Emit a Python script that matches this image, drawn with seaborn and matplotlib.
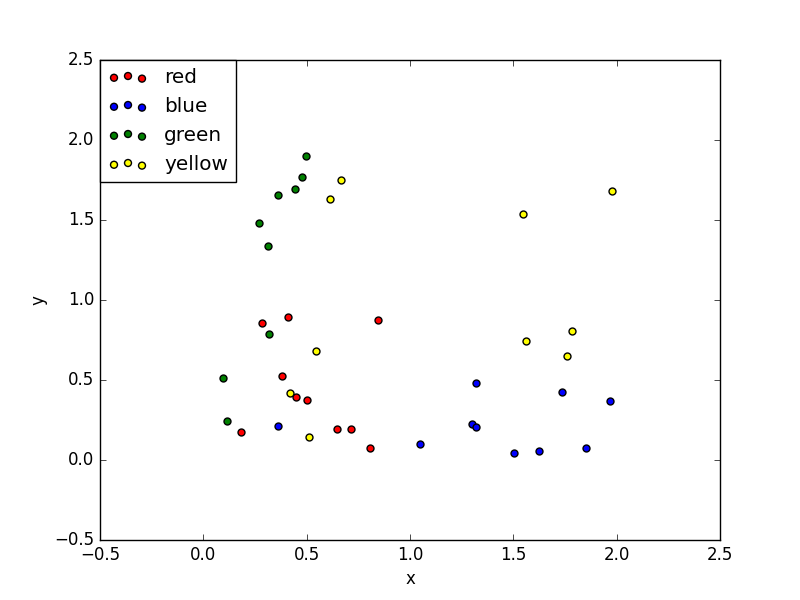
import matplotlib
matplotlib.use("Agg")
import matplotlib.pyplot as plt
import seaborn as sns
import pandas as pd

# point values
red_x = [0.286, 0.411, 0.847, 0.381, 0.450, 0.503, 0.184, 0.647, 0.716, 0.808]
red_y = [0.856, 0.894, 0.875, 0.525, 0.394, 0.375, 0.175, 0.194, 0.194, 0.075]

blue_x = [0.363, 1.321, 1.737, 1.968, 1.300, 1.321, 1.050, 1.503, 1.626, 1.853]
blue_y = [0.213, 0.481, 0.425, 0.369, 0.225, 0.206, 0.100, 0.044, 0.056, 0.075]

green_x = [0.499, 0.478, 0.445, 0.363, 0.271, 0.315, 0.319, 0.097, 0.115]
green_y = [1.900, 1.769, 1.694, 1.656, 1.481, 1.338, 0.788, 0.513, 0.244]

yellow_x = [0.668, 0.613, 0.547, 0.419, 0.511, 1.979, 1.548, 1.784, 1.559, 1.761]
yellow_y = [1.750, 1.631, 0.681, 0.419, 0.144, 1.679, 1.538, 0.806, 0.744, 0.650]

groups = {
    "red": (red_x, red_y),
    "blue": (blue_x, blue_y),
    "green": (green_x, green_y),
    "yellow": (yellow_x, yellow_y),
}

plt.style.use("classic")
plt.rcParams["figure.facecolor"] = "white"
plt.rcParams["savefig.facecolor"] = "white"

fig, ax = plt.subplots(figsize=(8, 6), dpi=100)

for name, (xs, ys) in groups.items():
    df = pd.DataFrame({"x": xs, "y": ys})
    sns.scatterplot(data=df, x="x", y="y", color=name, edgecolor="black",
                    linewidth=1, s=25, label=name, legend=False, ax=ax)

ax.set_xlim(-0.5, 2.5)
ax.set_ylim(-0.5, 2.5)
ax.set_xlabel("x")
ax.set_ylabel("y")
ax.legend(loc="upper left", scatterpoints=3, borderaxespad=0)

plt.savefig("out.png", dpi=100)
